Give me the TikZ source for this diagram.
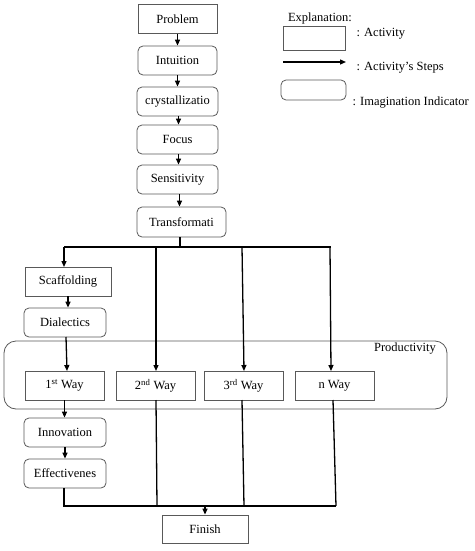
\documentclass[tikz,border=0pt]{standalone}
\usepackage{fontspec}
\setmainfont{Liberation Serif}
\usetikzlibrary{arrows.meta,positioning}

\begin{document}
\begin{tikzpicture}[x=1pt,y=-1pt,
	lbl/.style={font=\fontsize{12.5}{14}\selectfont},
	activity/.style={rectangle, draw=black!65, line width=0.8pt, inner sep=0pt, minimum height=29pt, lbl},
	imagine/.style={activity, rounded corners=5pt},
	flow/.style={line width=1.3pt, -{Triangle[length=6pt,width=5pt]}},
	bus/.style={line width=1.3pt}]
		\useasboundingbox (0,0) rectangle (474,551);

		% main column
		\node[activity, minimum width=79pt] (prob) at (177.5,19) {Problem};
		\node[imagine, minimum width=79pt] (intu) at (177.5,60.5) {Intuition};
		\node[imagine, minimum width=81pt] (crys) at (177.5,101.5) {crystallizatio};
		\node[imagine, minimum width=81pt] (focu) at (177.5,139.5) {Focus};
		\node[imagine, minimum width=81pt] (sens) at (177.5,179.5) {Sensitivity};
		\node[imagine, minimum width=89pt, minimum height=30pt] (tran) at (181.5,222) {Transformati};

		\draw[flow] (prob) -- (prob |- intu.north);
		\draw[flow] (intu) -- (intu |- crys.north);
		\draw[flow] ([xshift=1pt]crys.south) -- ([xshift=1pt]crys.south |- focu.north);
		\draw[flow] ([xshift=1pt]focu.south) -- ([xshift=1pt]focu.south |- sens.north);
		\draw[flow] ([xshift=2pt]sens.south) -- ([xshift=2pt]sens.south |- tran.north);

		% productivity
		\draw[draw=black!65, line width=0.8pt, rounded corners=12pt] (4,341) rectangle (447,409);
		\node[lbl] (prod) at (405,349) {Productivity};

		\node[activity, minimum width=86pt] (scaf) at (68,281.5) {Scaffolding};
		\node[imagine, minimum width=82pt] (dial) at (65,322.5) {Dialectics};
		\node[activity, minimum width=79pt] (way1) at (64.5,385.5) {1\textsuperscript{st} Way};
		\node[activity, minimum width=79pt] (way2) at (155.5,385.5) {2\textsuperscript{nd} Way};
		\node[activity, minimum width=79pt] (way3) at (243.5,385.5) {3\textsuperscript{rd} Way};
		\node[activity, minimum width=79pt] (wayn) at (334.5,385.5) {n Way};
		\node[imagine, minimum width=82pt] (inno) at (65,432.5) {Innovation};
		\node[imagine, minimum width=82pt] (effe) at (65,473.5) {Effectivenes};
		\node[activity, minimum width=86pt, minimum height=28pt] (fini) at (205,529) {Finish};

		% branching
		\coordinate (split) at (180,247);
		\coordinate (join) at (205,506);
		\draw[bus] ([xshift=-1.5pt]tran.south) -- (split);
		\draw[bus] (64,247) -- (331,247);
		\draw[flow] (64,247) -- (64,267);
		\draw[flow] (156,247) -- (156,371);
		\draw[flow] (242,247) -- (244,371);
		\draw[flow] (330,247) -- (331,371);
		\draw[flow] (scaf.south) -- (scaf.south |- dial.north);
		\draw[flow] (66,337) -- (67,371);
		\draw[flow] (way1) -- (way1 |- inno.north);
		\draw[flow] (inno) -- (inno |- effe.north);

		% joining
		\draw[bus] (64,488) -- (64,506) -- (336,506);
		\draw[bus] (156,400) -- (157,506);
		\draw[bus] (242,400) -- (244,506);
		\draw[bus] (333,400) -- (336,506);
		\draw[flow] (join) -- (join |- fini.north);

		% explanation
		\node[lbl] (expl) at (320,18) {Explanation:};
		\node[activity, minimum width=62pt, minimum height=24pt] (lgac) at (314,38) {};
		\node[lbl, anchor=west] (txac) at (353,34) {: Activity};
		\coordinate (lgst) at (283,62);
		\coordinate (lgen) at (346,62);
		\draw[flow] (lgst) -- (lgen);
		\node[lbl, anchor=west] (txst) at (353,68) {: Activity’s Steps};
		\node[imagine, minimum width=65pt, minimum height=20pt] (lgim) at (313.5,90) {};
		\node[lbl, anchor=west] (txim) at (349,103) {: Imagination Indicator};
	\end{tikzpicture}
\end{document}
